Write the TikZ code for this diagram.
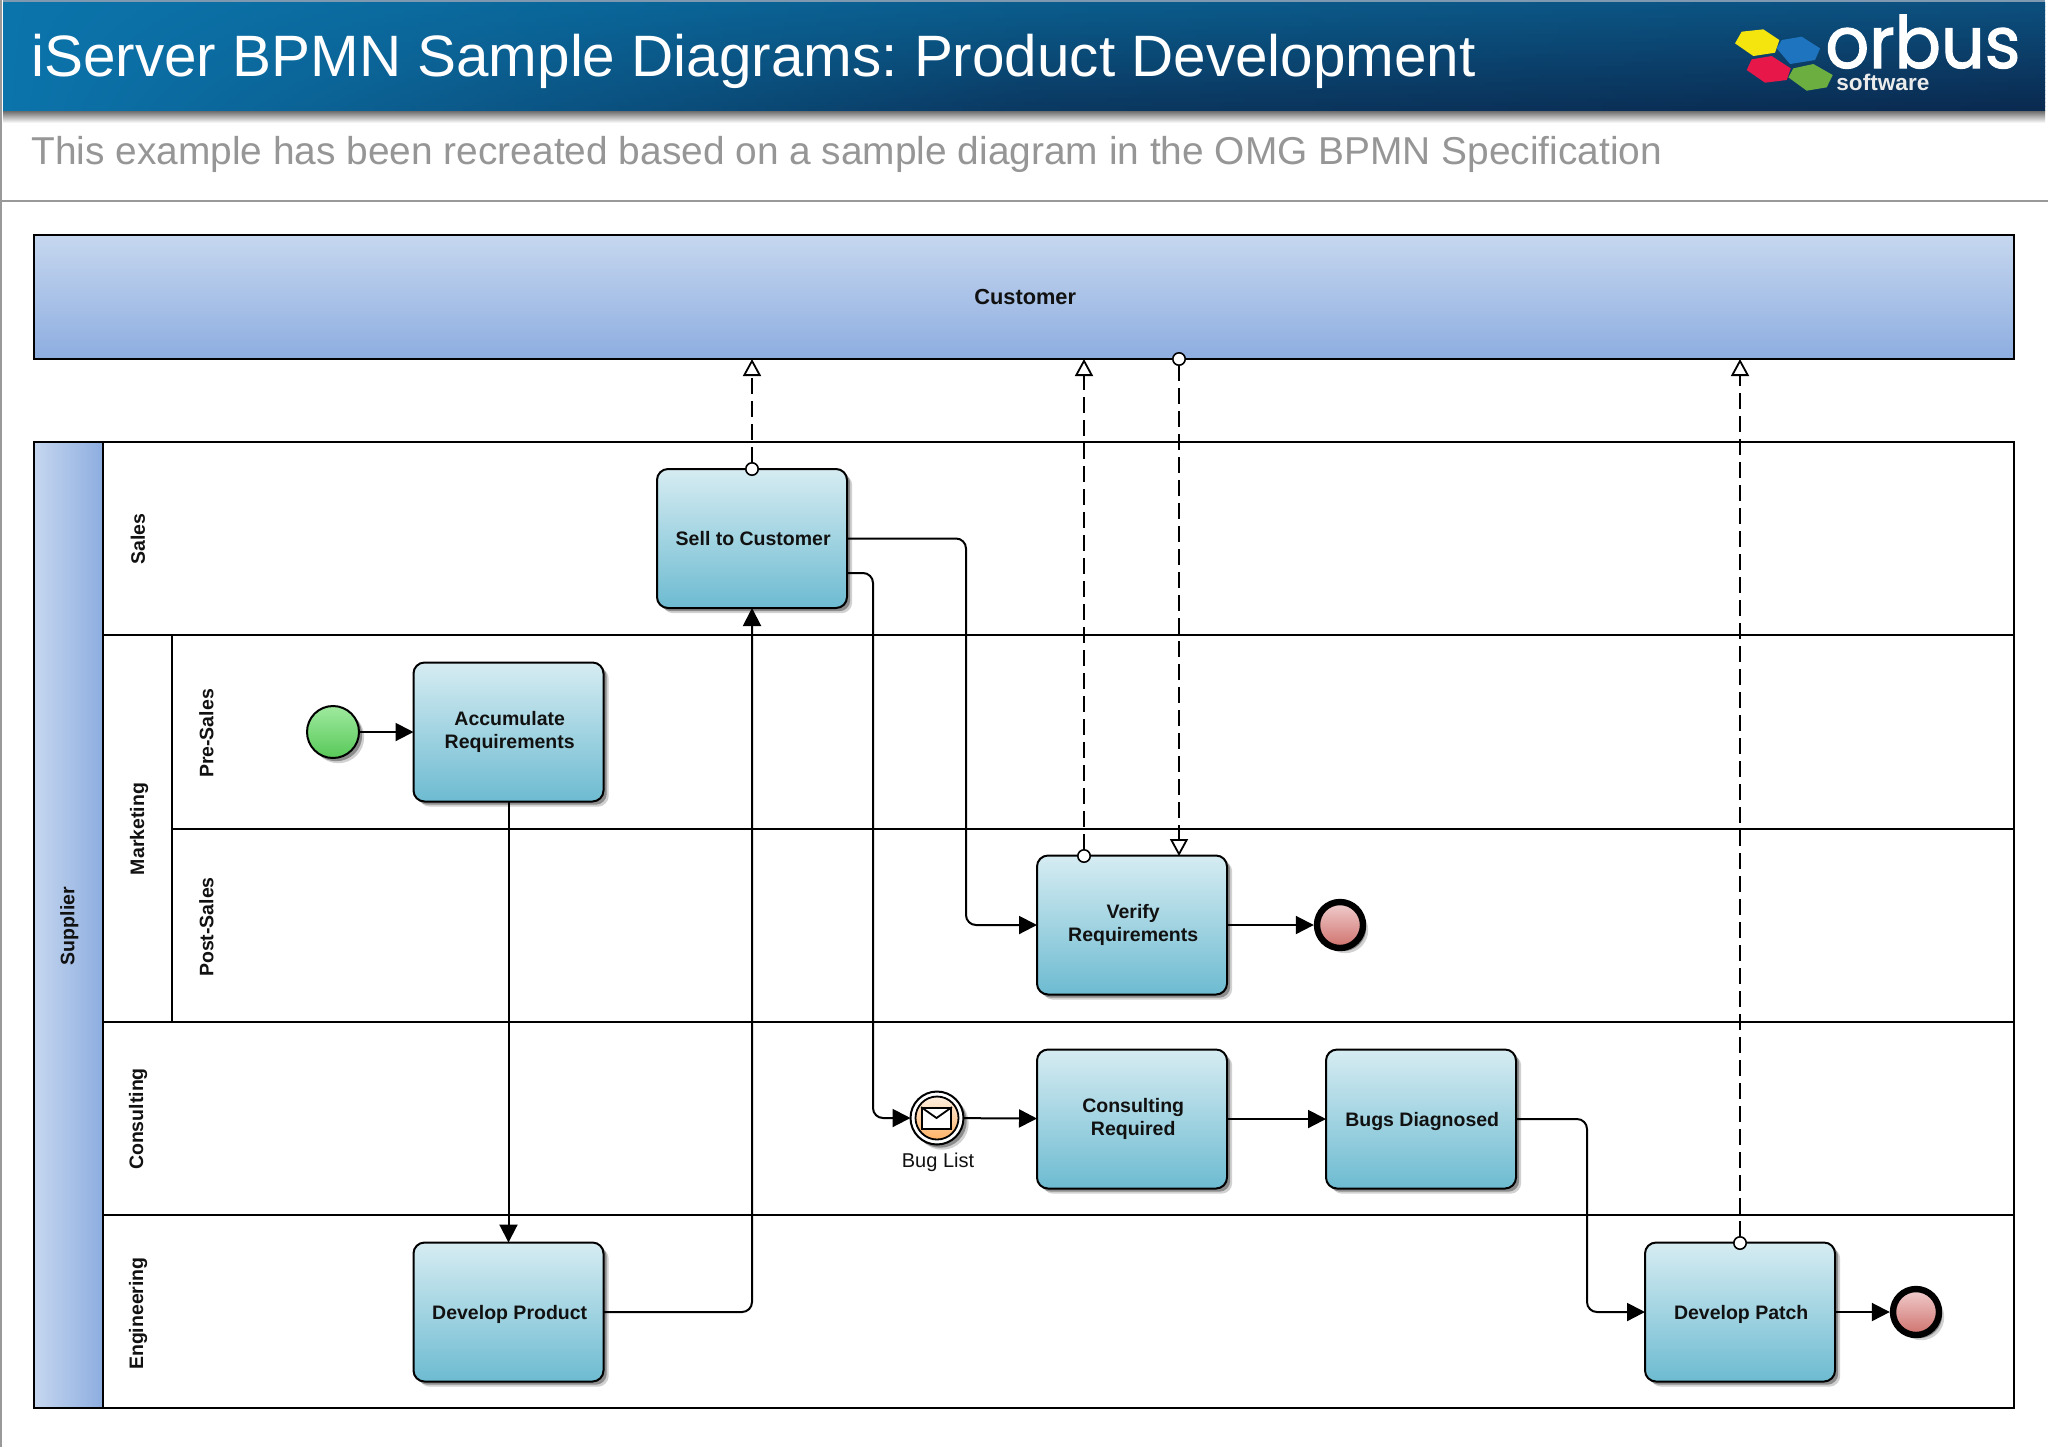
\documentclass[tikz,border=0pt]{standalone}
\usepackage{fontspec}
\setmainfont{Liberation Sans}
\newfontfamily\logofont[FakeBold=1.6,FakeStretch=0.95]{Poppins}
\usetikzlibrary{arrows.meta,shadows,calc}
\definecolor{hdrL}{HTML}{0B74AB}
\definecolor{hdrM}{HTML}{0A5C8C}
\definecolor{hdrRtop}{HTML}{0C4F7E}
\definecolor{hdrRbot}{HTML}{0A2A50}
\definecolor{hdrEdge}{HTML}{7F9AB0}
\definecolor{taskT}{HTML}{D6ECF2}
\definecolor{taskB}{HTML}{6DBBD1}
\definecolor{bandL}{HTML}{C6D7EF}
\definecolor{bandD}{HTML}{8DADE0}
\definecolor{txt}{HTML}{111111}
\definecolor{subgrey}{HTML}{969696}
\definecolor{hexY}{HTML}{F5E50F}
\definecolor{hexB}{HTML}{1F74C0}
\definecolor{hexR}{HTML}{E8174A}
\definecolor{hexG}{HTML}{6CAE3F}
\definecolor{startT}{HTML}{9FEA9F}
\definecolor{startB}{HTML}{58C858}
\definecolor{endT}{HTML}{F0CFCF}
\definecolor{endB}{HTML}{CF706B}
\newcommand{\tk}{\hspace*{1.2pt}}
\newcommand{\taskstrut}{\rule{0pt}{9.6pt}}
\tikzset{
  softshadow/.style={
    drop shadow={shadow xshift=2.6pt,shadow yshift=-2.6pt,fill=black!18,opacity=1},
    drop shadow={shadow xshift=1.6pt,shadow yshift=-1.6pt,fill=black!45,opacity=1}},
  task/.style={draw=black,line width=1pt,rounded corners=5.5pt,minimum width=95pt,minimum height=69.5pt,
    top color=taskT,bottom color=taskB,align=center,font=\fontsize{9.75}{11.75}\selectfont\bfseries,
    text=txt,softshadow,inner sep=0pt,outer sep=0pt,execute at begin node={\taskstrut}},
  lane/.style={draw=black,line width=1pt,fill=white,inner sep=0pt,outer sep=0pt},
  lanelabel/.style={rotate=90,font=\fontsize{9.75}{11.75}\selectfont\bfseries,text=txt,inner sep=0pt},
  flow/.style={draw=black,line width=1pt,rounded corners=5pt,-{Triangle[length=9pt,width=9pt]}},
  msg/.style={draw=black,line width=.9pt,dash pattern=on 8pt off 3.5pt,
    {Circle[open,fill=white,length=7pt,width=7pt,line width=.8pt,sep=0pt]}-{Triangle[open,fill=white,length=8.5pt,width=9pt,line width=.9pt,sep=0pt]}},
  startev/.style={circle,draw=black,line width=1pt,top color=startT,bottom color=startB,minimum size=26pt,inner sep=0pt,outer sep=0pt,softshadow},
  endev/.style={circle,draw=black,line width=3.2pt,top color=endT,bottom color=endB,minimum size=23pt,inner sep=0pt,outer sep=1.6pt,softshadow},
}
\begin{document}
\begin{tikzpicture}[x=0.5pt,y=-0.5pt]
\useasboundingbox (0,0) rectangle (2048,1447);
\fill[white] (0,0) rectangle (2048,1447);
% page frame and header
\fill[black!40] (0,0) rectangle (1.5,1447);
\fill[hdrEdge] (3,0) rectangle (2045,2);
\shade[top color=black!62,bottom color=white] (3,110) rectangle (2045,123);
\foreach \i in {0,...,26}{
  \pgfmathsetmacro{\mixv}{100-\i*100/26}
  \colorlet{rowR}{hdrRtop!\mixv!hdrRbot}
  \colorlet{rowM}{hdrM!\mixv!hdrRbot!70!hdrM}
  \shade[left color=hdrL,right color=rowR,middle color=rowM] (3,{2+\i*4}) rectangle (2045,{2+\i*4+4.6});
}
\node[anchor=base west,inner sep=0pt,text=white,font=\fontsize{29.2}{34}\selectfont\frenchspacing] (title) at (31,76) {iServer BPMN Sample Diagrams: Product Development};
\node[anchor=base west,inner sep=0pt,text=subgrey,font=\fontsize{19.43}{24}\selectfont\frenchspacing] (subtitle) at (31,164.3) {This example has been recreated based on a sample diagram in the OMG BPMN Specification};
\draw[black!40,line width=1pt] (0,201) -- (2048,201);
% logo
\begin{scope}[shift={(1650,0)},x=0.1667pt,y=-0.1667pt]
\fill[hexY] (255,130)--(275,95)--(340,88)--(388,120)--(375,158)--(310,168)--cycle;
\fill[hexB] (380,145)--(395,120)--(455,110)--(510,145)--(495,180)--(420,192)--cycle;
\fill[hexR] (290,210)--(305,178)--(365,168)--(422,205)--(410,240)--(345,248)--cycle;
\fill[hexG] (415,232)--(430,205)--(490,192)--(548,225)--(530,262)--(470,272)--cycle;
\end{scope}
\node[anchor=base west,inner sep=0pt,text=white,text depth=0pt,font=\logofont\fontsize{36}{40}\selectfont] (orbus) at (1825,68) {orbus};
\node[anchor=base west,inner sep=0pt,text=black!8,font=\fontsize{11.3}{12}\selectfont\bfseries] (software) at (1836,90) {software};
\begin{scope}[yshift=-0.5pt]
% customer pool
\node[draw=black,line width=1pt,top color=bandL,bottom color=bandD,minimum width=990pt,minimum height=62pt,inner sep=0pt,outer sep=0pt,font=\fontsize{10.9}{12}\selectfont\bfseries,text=txt] (customer) at (1024,296) {\tk Customer};
% supplier pool
\node[lane,minimum width=990pt,minimum height=483pt] (pool) at (1024,924) {};
\node[lane,minimum width=34.5pt,minimum height=483pt,left color=bandL,right color=bandD] (supplier) at (68.5,924) {};
\node[lanelabel] (supplierL) at (69.3,925) {Supplier};
\node[lane,minimum width=955.5pt,minimum height=96.5pt] (sales) at (1058.5,537.5) {};
\node[lanelabel] (salesL) at (138,538) {Sales};
\node[lane,minimum width=34.5pt,minimum height=193.5pt] (marketing) at (137.5,827.5) {};
\node[lanelabel] (marketingL) at (139,828) {Marketing};
\node[lane,minimum width=921pt,minimum height=96.75pt] (presales) at (1093,731) {};
\node[lanelabel] (presalesL) at (206.5,732.5) {Pre-Sales};
\node[lane,minimum width=921pt,minimum height=96.75pt] (postsales) at (1093,924.5) {};
\node[lanelabel] (postsalesL) at (206.5,926) {Post-Sales};
\node[lane,minimum width=955.5pt,minimum height=96.5pt] (consulting) at (1058.5,1117.5) {};
\node[lanelabel] (consultingL) at (138,1118) {Consulting};
\node[lane,minimum width=955.5pt,minimum height=96.5pt] (engineering) at (1058.5,1310.5) {};
\node[lanelabel] (engineeringL) at (138,1312.5) {Engineering};
% tasks
\node[task] (sell) at (752,537.5) {\rule[-3pt]{0pt}{0pt}\tk Sell to Customer};
\node[task] (accum) at (508.5,731) {\tk Accumulate\\\tk Requirements};
\node[task] (verify) at (1132,924) {\tk Verify\\\tk Requirements};
\node[task] (consult) at (1132,1118) {\tk Consulting\\\tk Required};
\node[task] (bugs) at (1421,1118) {\tk Bugs Diagnosed};
\node[task] (devprod) at (508.5,1311) {\tk Develop Product};
\node[task] (devpatch) at (1740,1311) {\tk Develop Patch};
% events
\node[startev] (start) at (333,731) {};
\node[endev] (end1) at (1340,924) {};
\node[endev] (end2) at (1916,1311) {};
\node[circle,draw=black,line width=1pt,fill=white,minimum size=26.5pt,inner sep=0pt,outer sep=0pt,softshadow] (bug) at (937,1117) {};
\node[circle,draw=black,line width=.9pt,top color=orange!12!white,bottom color=orange!60!white,minimum size=21.5pt,inner sep=0pt] (buginner) at (937,1117) {};
\node[draw=black,line width=.9pt,fill=white,minimum width=14.5pt,minimum height=10.5pt,inner sep=0pt] (env) at (936.5,1117.5) {};
\draw[black,line width=.9pt] (env.north west) -- (936.5,1117) -- (env.north east);
\node[inner sep=0pt,font=\fontsize{10}{12}\selectfont,text=txt] (buglabel) at (938,1161.5) {Bug List};
% coordinates
\coordinate (sellout) at (847,572);
\coordinate (ca) at (966,538);
\coordinate (cb) at (873,800);
\coordinate (cc) at (1587,1200);
\coordinate (sellmsg) at (752,475);
\coordinate (vm1) at (1084,862);
\coordinate (vm2) at (1179,855);
\coordinate (pm) at (1740,1249);
% sequence flows
\draw[flow] (start) -- (accum);
\draw[flow] (accum) -- (devprod);
\draw[flow] (devprod.east) -| (sell.south);
\draw[flow] (sell.east) -| (ca |- verify.west) -- (verify.west);
\draw[flow] (sellout) -| (cb |- bug.west) -- (bug.west);
\draw[flow] (bug) -- (consult);
\draw[flow] (consult) -- (bugs);
\draw[flow] (bugs.east) -| (cc |- devpatch.west) -- (devpatch.west);
\draw[flow] (verify) -- (end1);
\draw[flow] (devpatch) -- (end2);
% message flows
\draw[msg] (sellmsg) -- (sellmsg |- customer.south);
\draw[msg] (vm1) -- (vm1 |- customer.south);
\draw[msg] ($(vm2 |- customer.south)+(0,-7)$) -- (vm2);
\draw[msg] (pm) -- (pm |- customer.south);
\end{scope}
\end{tikzpicture}
\end{document}
